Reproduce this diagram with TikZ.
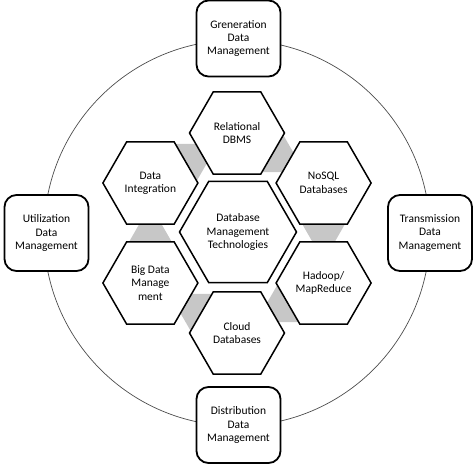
\documentclass[tikz,border=0pt]{standalone}
\usepackage{fontspec}
\setmainfont{Carlito}
\usepackage{tikz}
\usetikzlibrary{shapes.geometric, positioning}

\tikzset{
    hexcell/.style={regular polygon, regular polygon sides=6, draw=black, fill=white,
        line width=1.5pt, inner sep=0pt, minimum size=95pt, align=center},
    corehex/.style={hexcell, minimum size=117pt},
    databox/.style={draw=black, fill=white, line width=1.8pt, rounded corners=12pt,
        minimum width=84pt, minimum height=76pt, align=center},
    ribbon/.style={fill=black!22}
}

\begin{document}
\begin{tikzpicture}[x=1pt, y=1pt, font=\fontsize{11.5pt}{13.4pt}\selectfont]
    \useasboundingbox (-237,-233) rectangle (237,233);

    % Outer ring
    \draw[black!70, line width=0.7pt] (0,0) circle[radius=193pt];

    % Grey ribbons between neighbouring cells
    \foreach \a in {90,30,-30,-90,-150,150} {
        \begin{scope}[shift={(\a:100)}, rotate=\a-120]
            \fill[ribbon] (40,-22) -- (40,22) -- (60,10.5) -- (60,-10.5) -- cycle;
        \end{scope}
    }

    % Hexagon cluster
    \node[corehex] (core) at (1,1) {Database\\Management\\Technologies};
    \node[hexcell] (rdbms) at (90:100) {Relational\\DBMS};
    \node[hexcell] (nosql) at (30:100) {NoSQL\\Databases};
    \node[hexcell] (hadoop) at (-30:100) {Hadoop/\\MapReduce};
    \node[hexcell] (cloud) at (-90:100) {Cloud\\Databases};
    \node[hexcell] (bigdata) at (-150:100) {Big Data\\Manage\\ment};
    \node[hexcell] (integ) at (150:100) {Data\\Integration};

    % Life cycle boxes on the ring
    \node[databox] (gen) at (1.5,194.5) {Greneration\\Data\\Management};
    \node[databox] (trans) at (193,0) {Transmission\\Data\\Management};
    \node[databox] (dist) at (1.5,-192) {Distribution\\Data\\Management};
    \node[databox] (util) at (-190.5,0) {Utilization\\Data\\Management};
\end{tikzpicture}
\end{document}
